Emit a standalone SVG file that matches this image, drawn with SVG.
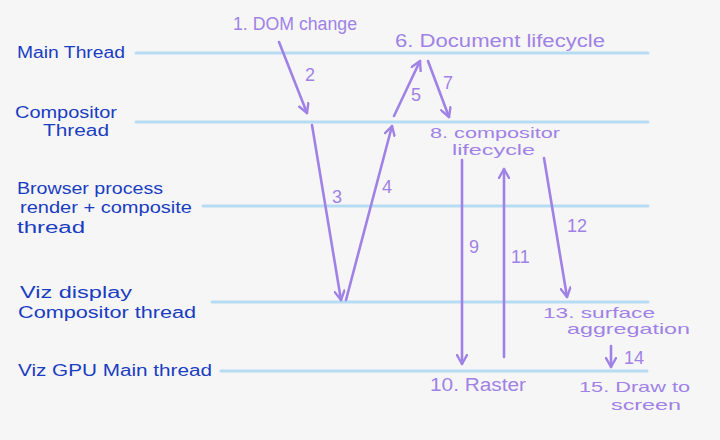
<svg xmlns="http://www.w3.org/2000/svg" width="720" height="440" viewBox="0 0 720 440">
<style>
.bg{fill:#f6f6f6}
.lane{stroke:#b5dcf2;stroke-width:3;fill:none;stroke-linecap:round}
.lbl{fill:#1a3dc2;font-family:"Liberation Sans","Noto Sans",sans-serif;font-size:16px}
.step{fill:#a082e7;font-family:"Liberation Sans","Noto Sans",sans-serif;font-size:18px}
.step2{fill:#a082e7;font-family:"Liberation Sans","Noto Sans",sans-serif;font-size:15px}
.num{fill:#a082e7;font-family:"Liberation Sans","Noto Sans",sans-serif;font-size:18px}
.arr{stroke:#a082e7;stroke-width:2.6;fill:none;stroke-linecap:round;marker-end:url(#head)}
</style>
<defs>
<marker id="head" viewBox="0 0 12 12" refX="10" refY="6" markerWidth="12" markerHeight="12" markerUnits="userSpaceOnUse" orient="auto">
<path d="M1,1 L10,6 L1,11" fill="none" stroke="#a082e7" stroke-width="2.4" stroke-linecap="round" stroke-linejoin="round"/>
</marker>
</defs>
<rect class="bg" x="0" y="0" width="720" height="440"/>

<g id="thread-main">
<line class="lane" x1="136" y1="53" x2="648" y2="53"/>
<text class="lbl" x="17" y="58" textLength="108" lengthAdjust="spacingAndGlyphs">Main Thread</text>
</g>
<g id="thread-compositor">
<line class="lane" x1="136" y1="122" x2="648" y2="122"/>
<text class="lbl" x="15" y="118" textLength="102" lengthAdjust="spacingAndGlyphs">Compositor</text>
<text class="lbl" x="43" y="136" textLength="66" lengthAdjust="spacingAndGlyphs">Thread</text>
</g>
<g id="thread-browser">
<line class="lane" x1="203" y1="206" x2="648" y2="206"/>
<text class="lbl" x="17" y="194" textLength="146" lengthAdjust="spacingAndGlyphs">Browser process</text>
<text class="lbl" x="20" y="213" textLength="172" lengthAdjust="spacingAndGlyphs">render + composite</text>
<text class="lbl" x="17" y="233" textLength="68" lengthAdjust="spacingAndGlyphs">thread</text>
</g>
<g id="thread-viz-display">
<line class="lane" x1="212" y1="302" x2="648" y2="302"/>
<text class="lbl" x="20" y="298" textLength="112" lengthAdjust="spacingAndGlyphs">Viz display</text>
<text class="lbl" x="18" y="318" textLength="178" lengthAdjust="spacingAndGlyphs">Compositor thread</text>
</g>
<g id="thread-viz-gpu">
<line class="lane" x1="221" y1="371" x2="647" y2="371"/>
<text class="lbl" x="18" y="376" textLength="194" lengthAdjust="spacingAndGlyphs">Viz GPU Main thread</text>
</g>

<g id="step-1"><text class="step" x="233" y="30" textLength="124" lengthAdjust="spacingAndGlyphs">1. DOM change</text></g>
<g id="step-6"><text class="step" x="395" y="47" textLength="210" lengthAdjust="spacingAndGlyphs">6. Document lifecycle</text></g>
<g id="step-8"><text class="step2" x="430" y="138" textLength="130" lengthAdjust="spacingAndGlyphs">8. compositor</text>
<text class="step2" x="452" y="155" textLength="83" lengthAdjust="spacingAndGlyphs">lifecycle</text></g>
<g id="step-10"><text class="step" x="430" y="391" textLength="96" lengthAdjust="spacingAndGlyphs">10. Raster</text></g>
<g id="step-13"><text class="step2" x="543" y="318" textLength="112" lengthAdjust="spacingAndGlyphs">13. surface</text>
<text class="step2" x="567" y="334" textLength="123" lengthAdjust="spacingAndGlyphs">aggregation</text></g>
<g id="step-15"><text class="step2" x="579" y="392" textLength="111" lengthAdjust="spacingAndGlyphs">15. Draw to</text>
<text class="step2" x="611" y="410" textLength="70" lengthAdjust="spacingAndGlyphs">screen</text></g>

<g id="connectors">
<line class="arr" x1="279" y1="42" x2="307" y2="113"/>
<text class="num" x="305" y="81">2</text>
<line class="arr" x1="312" y1="125" x2="341" y2="300"/>
<text class="num" x="332" y="203">3</text>
<line class="arr" x1="346" y1="300" x2="392" y2="126"/>
<text class="num" x="382" y="193">4</text>
<line class="arr" x1="394" y1="116" x2="420" y2="61"/>
<text class="num" x="411" y="101">5</text>
<line class="arr" x1="428" y1="61" x2="449" y2="117"/>
<text class="num" x="443" y="89">7</text>
<line class="arr" x1="462" y1="160" x2="462" y2="364"/>
<text class="num" x="469" y="253">9</text>
<line class="arr" x1="504" y1="357" x2="504" y2="169"/>
<text class="num" x="511" y="263">11</text>
<line class="arr" x1="544" y1="158" x2="567" y2="297"/>
<text class="num" x="567" y="232">12</text>
<line class="arr" x1="611" y1="346" x2="611" y2="367"/>
<text class="num" x="624" y="364">14</text>
</g>
</svg>
